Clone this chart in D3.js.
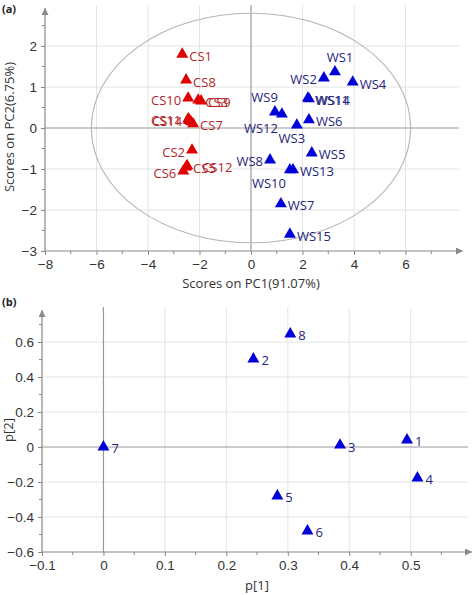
<!DOCTYPE html>
<html>
<head>
<meta charset="utf-8">
<script src="https://cdn.jsdelivr.net/npm/d3@7"></script>
<style>
  body { margin: 0; background: #fff; }
  svg { display: block; font-family: "Open Sans", "DejaVu Sans", sans-serif; }
</style>
</head>
<body>
<script>
// panel (a) scores
const csNames = ["CS1","CS2","CS3","CS4","CS5","CS6","CS7","CS8","CS9","CS10","CS11","CS12","CS13","CS14"];
const csPC1 = [-2.67,-2.29,-2.05,-2.33,-2.52,-2.63,-2.25,-2.52,-1.94,-2.44,-2.44,-2.48,-2.40,-2.40];
const csPC2 = [1.80,-0.54,0.68,0.15,-0.95,-1.05,0.10,1.17,0.66,0.73,0.22,-0.92,0.18,0.20];
const csSide = ["right","left","right","none","right","left","right","right","right","left","left","right2","none","left"];

const wsNames = ["WS1","WS2","WS3","WS4","WS5","WS6","WS7","WS8","WS9","WS10","WS11","WS12","WS13","WS14","WS15"];
const wsPC1 = [3.26,2.83,1.78,3.95,2.36,2.25,1.16,0.74,0.93,1.51,2.21,1.20,1.63,2.25,1.51];
const wsPC2 = [1.37,1.22,0.07,1.12,-0.61,0.20,-1.85,-0.78,0.39,-1.02,0.73,0.34,-1.02,0.71,-2.59];
const wsSide = ["above","left","below","right","right","right","right","left","aboveleft","belowleft","right","belowleft","right","right","right"];

const ellipseR = [6.2, 2.8];

// panel (b) loadings
const loadNames = ["1","2","3","4","5","6","7","8"];
const p1 = [0.494,0.244,0.385,0.511,0.283,0.332,0.0,0.304];
const p2 = [0.04,0.503,0.011,-0.177,-0.28,-0.48,0.0,0.646];

const xTicksA = [-8,-6,-4,-2,0,2,4,6];
const yTicksA = [-3,-2,-1,0,1,2];
const xTicksB = [-0.1,0,0.1,0.2,0.3,0.4,0.5];
const yTicksB = [-0.6,-0.4,-0.2,0,0.2,0.4,0.6];

const W = 474, H = 595;
const svg = d3.select("body").append("svg").attr("width", W).attr("height", H);

const defs = svg.append("defs");
defs.append("marker").attr("id","arr").attr("viewBox","0 0 10 10")
  .attr("refX",10).attr("refY",5).attr("markerWidth",9).attr("markerHeight",7)
  .attr("orient","auto").attr("markerUnits","userSpaceOnUse")
  .append("path").attr("d","M0,0L10,5L0,10z").attr("fill","#888");

const tri = d3.symbol().type(d3.symbolTriangle).size(62);
const fmt = d => (d < 0 ? "\u2212" + Math.abs(d) : String(d));

function frame(x, y, xt, yt, xMinor, yMinor) {
  const g = svg.append("g");
  const [x0, x1] = x.range(), [y0, y1] = y.range();
  // grid
  g.selectAll(".vg").data(xt.filter(d => d !== 0 && d !== x.domain()[0])).join("line")
    .attr("x1", d => x(d)).attr("x2", d => x(d)).attr("y1", y0).attr("y2", y1)
    .attr("stroke", "#e4e4e4").attr("stroke-width", 1);
  g.selectAll(".hg").data(yt.filter(d => d !== 0 && d !== y.domain()[0])).join("line")
    .attr("y1", d => y(d)).attr("y2", d => y(d)).attr("x1", x0).attr("x2", x1 + 2)
    .attr("stroke", "#e4e4e4").attr("stroke-width", 1);
  // zero lines
  g.append("line").attr("x1", x(0)).attr("x2", x(0)).attr("y1", y0).attr("y2", y1)
    .attr("stroke", "#9a9a9a").attr("stroke-width", 1.2);
  g.append("line").attr("x1", x0).attr("x2", x1 + 2).attr("y1", y(0)).attr("y2", y(0))
    .attr("stroke", "#9a9a9a").attr("stroke-width", 1.2);
  // axes
  const xa = g.append("g").attr("transform", `translate(0,${y0})`)
    .call(d3.axisBottom(x).tickValues(xt).tickFormat(fmt).tickSize(4).tickPadding(4));
  const ya = g.append("g").attr("transform", `translate(${x0},0)`)
    .call(d3.axisLeft(y).tickValues(yt).tickFormat(fmt).tickSize(4).tickPadding(4));
  [xa, ya].forEach(a => {
    a.select(".domain").remove();
    a.selectAll("line").attr("stroke", "#888");
    a.selectAll("text").attr("fill", "#333").style("font-size", "13.5px");
  });
  xa.selectAll(".mt").data(xMinor).join("line").attr("x1", d => x(d)).attr("x2", d => x(d))
    .attr("y1", 0).attr("y2", 3).attr("stroke", "#888");
  ya.selectAll(".mt").data(yMinor).join("line").attr("y1", d => y(d)).attr("y2", d => y(d))
    .attr("x1", 0).attr("x2", -3).attr("stroke", "#888");
  g.append("line").attr("x1", x0).attr("x2", x0).attr("y1", y0).attr("y2", y1 + 3)
    .attr("stroke", "#888").attr("stroke-width", 1.2).attr("marker-end", "url(#arr)");
  g.append("line").attr("x1", x0).attr("x2", x1 + 6).attr("y1", y0).attr("y2", y0)
    .attr("stroke", "#888").attr("stroke-width", 1.2).attr("marker-end", "url(#arr)");
}

// ---------- panel (a)
const xA = d3.scaleLinear().domain([-8, 8]).range([45, 457]);
const yA = d3.scaleLinear().domain([-3, 3]).range([251, 5]);
frame(xA, yA, xTicksA, yTicksA, d3.range(-7, 8, 2), d3.range(-2.5, 3, 1));

svg.append("ellipse").attr("cx", xA(0)).attr("cy", yA(0))
  .attr("rx", xA(ellipseR[0]) - xA(0)).attr("ry", yA(0) - yA(ellipseR[1]))
  .attr("fill", "none").attr("stroke", "#b4b4b4").attr("stroke-width", 1.1);

function scorePoints(names, xs, ys, sides, fill, txt) {
  const g = svg.append("g");
  names.forEach((n, i) => {
    const px = xA(xs[i]), py = yA(ys[i]);
    g.append("path").attr("d", tri).attr("transform", `translate(${px},${py})`).attr("fill", fill);
    const s = sides[i];
    if (s === "none") return;
    const t = g.append("text").text(n).attr("fill", txt).style("font-size", "13px")
      .attr("dominant-baseline", "middle");
    if (s === "right") t.attr("x", px + 7).attr("y", py + 3);
    if (s === "right2") t.attr("x", px + 15).attr("y", py + 3);
    if (s === "left") t.attr("x", px - 7).attr("y", py + 3).attr("text-anchor", "end");
    if (s === "above") t.attr("x", px + 5).attr("y", py - 13).attr("text-anchor", "middle");
    if (s === "below") t.attr("x", px - 5).attr("y", py + 14).attr("text-anchor", "middle");
    if (s === "aboveleft") t.attr("x", px + 3).attr("y", py - 13).attr("text-anchor", "end");
    if (s === "belowleft") t.attr("x", px - 4).attr("y", py + 15).attr("text-anchor", "end");
  });
}
scorePoints(csNames, csPC1, csPC2, csSide, "#e00000", "#b3262b");
scorePoints(wsNames, wsPC1, wsPC2, wsSide, "#0000d8", "#24247e");

svg.append("text").attr("x", 251).attr("y", 288).attr("text-anchor", "middle")
  .attr("fill", "#333").style("font-size", "13px").text("Scores on PC1(91.07%)");
svg.append("text").attr("transform", "translate(14,127) rotate(-90)").attr("text-anchor", "middle")
  .attr("fill", "#333").style("font-size", "13px").text("Scores on PC2(6.75%)");
svg.append("text").attr("x", 2).attr("y", 13).style("font-weight", "bold")
  .style("font-size", "11px").attr("fill", "#222").text("(a)");

// ---------- panel (b)
const xB = d3.scaleLinear().domain([-0.1, 0.59]).range([42, 466]);
const yB = d3.scaleLinear().domain([-0.6, 0.8]).range([552, 307]);
frame(xB, yB, xTicksB, yTicksB, d3.range(-0.05, 0.56, 0.1), d3.range(-0.5, 0.75, 0.2));

const gb = svg.append("g");
loadNames.forEach((n, i) => {
  const px = xB(p1[i]), py = yB(p2[i]);
  gb.append("path").attr("d", tri).attr("transform", `translate(${px},${py})`).attr("fill", "#0000d8");
  gb.append("text").attr("x", px + 8).attr("y", py + 3).attr("dominant-baseline", "middle")
    .attr("fill", "#24247e").style("font-size", "13px").text(n);
});

svg.append("text").attr("x", 257).attr("y", 590).attr("text-anchor", "middle")
  .attr("fill", "#333").style("font-size", "13px").text("p[1]");
svg.append("text").attr("transform", "translate(13,430) rotate(-90)").attr("text-anchor", "middle")
  .attr("fill", "#333").style("font-size", "13px").text("p[2]");
svg.append("text").attr("x", 2).attr("y", 306).style("font-weight", "bold")
  .style("font-size", "11px").attr("fill", "#222").text("(b)");
</script>
</body>
</html>
